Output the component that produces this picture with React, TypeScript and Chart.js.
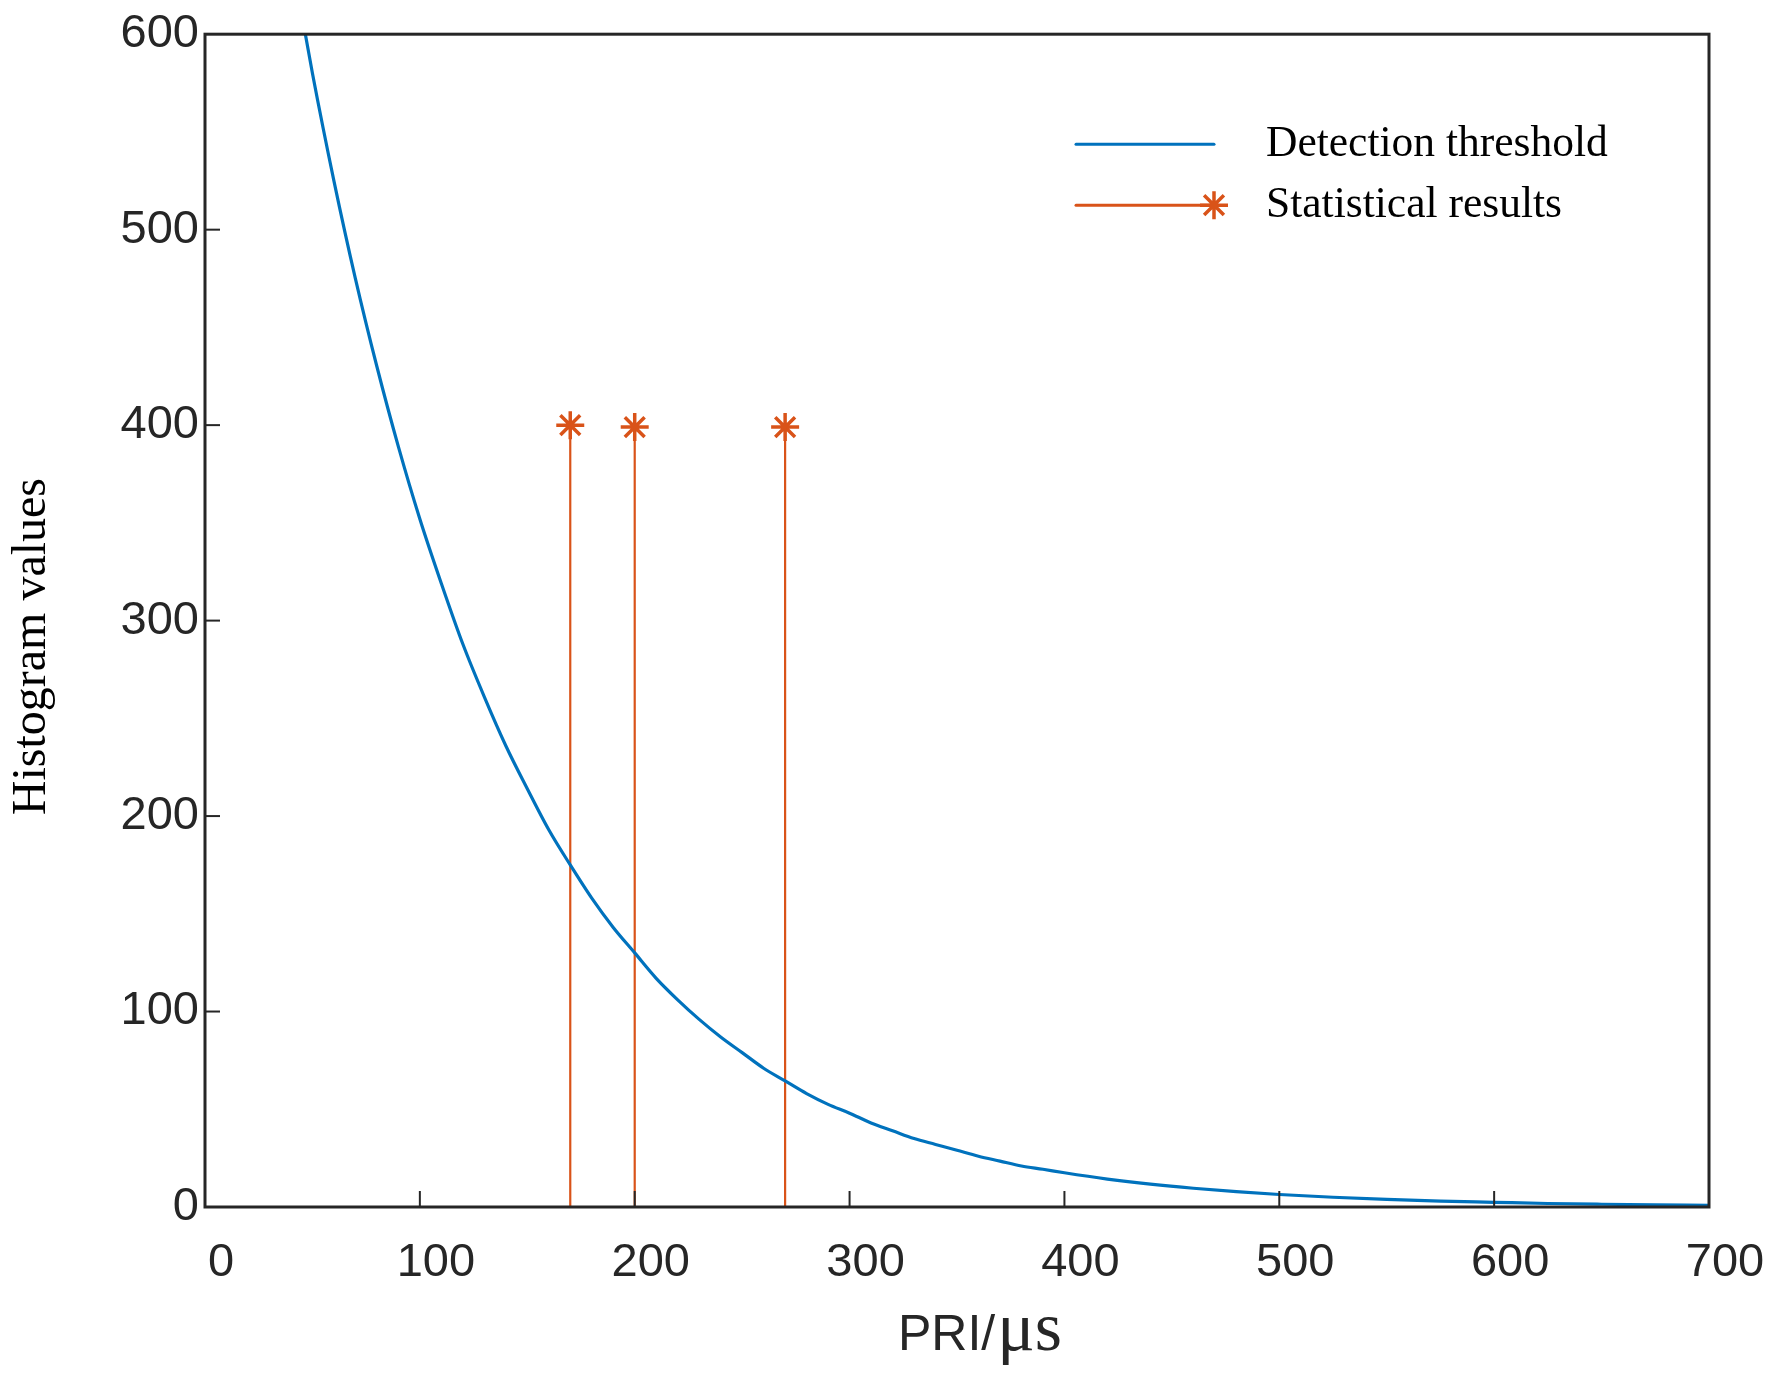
import React, { useEffect, useRef } from "react";
import { Chart, registerables } from "chart.js";

Chart.register(...registerables);

// ---- data ----
const thresholdX = [40, 50, 60, 70, 80, 90, 100, 110, 120, 130, 140, 150, 160, 170, 180, 190, 200, 210, 220, 230, 240, 250, 260, 270, 280, 290, 300, 310, 320, 330, 340, 350, 360, 370, 380, 390, 400, 420, 440, 460, 480, 500, 525, 550, 575, 600, 625, 650, 675, 700];
const thresholdY = [641, 580, 525, 475, 430, 389, 352, 319, 288, 261, 236, 214, 193, 175, 158, 143, 130, 117, 106, 96, 87, 79, 71, 64.5, 58, 52.5, 48, 43, 39, 35, 32, 29, 26, 23.5, 21, 19.3, 17.5, 14.3, 11.7, 9.6, 7.9, 6.4, 5.0, 3.9, 3.0, 2.4, 1.8, 1.4, 1.1, 0.9];
const stemX = [170, 200, 270];
const stemY = [400, 399, 399];
const xTickValues = [0, 100, 200, 300, 400, 500, 600, 700];
const yTickValues = [0, 100, 200, 300, 400, 500, 600];
const legendLabels = ["Detection threshold", "Statistical results"];
const xTitleParts = ["PRI/", "μs"];
const yTitle = "Histogram values";

const BLUE = "#0072BD";
const ORANGE = "#D95319";
const AXIS = "#262626";

const W = 1779;
const H = 1390;

export default function App() {
  const ref = useRef<HTMLCanvasElement | null>(null);

  useEffect(() => {
    const canvas = ref.current;
    if (!canvas) return;

    const stemData: any[] = [];
    stemX.forEach((x, i) => {
      stemData.push({ x, y: 0 });
      stemData.push({ x, y: stemY[i] });
      stemData.push({ x, y: null });
    });

    const framePlugin = {
      id: "frame",
      afterDatasetsDraw(chart: any) {
        const { ctx, chartArea, scales } = chart;
        const { left, right, top, bottom } = chartArea;
        ctx.save();
        ctx.strokeStyle = AXIS;
        ctx.lineWidth = 3;
        ctx.strokeRect(left, top, right - left, bottom - top);
        ctx.lineWidth = 2;
        xTickValues.forEach((v) => {
          const px = scales.x.getPixelForValue(v);
          if (v === xTickValues[0] || v === xTickValues[xTickValues.length - 1]) return;
          ctx.beginPath();
          ctx.moveTo(px, bottom);
          ctx.lineTo(px, bottom - 16);
          ctx.stroke();
        });
        yTickValues.forEach((v) => {
          const py = scales.y.getPixelForValue(v);
          if (v === yTickValues[0] || v === yTickValues[yTickValues.length - 1]) return;
          ctx.beginPath();
          ctx.moveTo(left, py);
          ctx.lineTo(left + 15, py);
          ctx.stroke();
        });
        ctx.restore();
      },
      afterDraw(chart: any) {
        const { ctx, chartArea } = chart;
        const { left, right, top, bottom } = chartArea;
        ctx.save();
        // legend
        const lx0 = left + 871;
        const lx1 = left + 1009;
        const tx = left + 1061;
        const ly = [top + 110, top + 171];
        ctx.lineCap = "round";
        ctx.lineWidth = 3;
        ctx.strokeStyle = BLUE;
        ctx.beginPath();
        ctx.moveTo(lx0, ly[0]);
        ctx.lineTo(lx1, ly[0]);
        ctx.stroke();
        ctx.strokeStyle = ORANGE;
        ctx.beginPath();
        ctx.moveTo(lx0, ly[1]);
        ctx.lineTo(lx1, ly[1]);
        ctx.stroke();
        // star marker
        const r = 14;
        ctx.lineWidth = 3.5;
        ctx.lineCap = "butt";
        ctx.beginPath();
        for (let k = 0; k < 4; k++) {
          const a = (k * Math.PI) / 4;
          ctx.moveTo(lx1 - r * Math.sin(a), ly[1] - r * Math.cos(a));
          ctx.lineTo(lx1 + r * Math.sin(a), ly[1] + r * Math.cos(a));
        }
        ctx.stroke();
        ctx.fillStyle = "#000";
        ctx.font = "43.5px 'Liberation Serif'";
        ctx.textBaseline = "middle";
        ctx.textAlign = "left";
        ctx.fillText(legendLabels[0], tx, ly[0]);
        ctx.fillText(legendLabels[1], tx, ly[1]);

        // y title
        ctx.save();
        ctx.translate(32, (top + bottom) / 2 + 26);
        ctx.rotate(-Math.PI / 2);
        ctx.font = "48px 'Liberation Serif'";
        ctx.textAlign = "center";
        ctx.textBaseline = "middle";
        ctx.fillStyle = "#000";
        ctx.fillText(yTitle, 0, 0);
        ctx.restore();

        // x title
        ctx.fillStyle = AXIS;
        ctx.textBaseline = "alphabetic";
        ctx.textAlign = "left";
        const f1 = "50px 'Liberation Sans'";
        const f2 = "70px 'Liberation Serif'";
        ctx.font = f1;
        const w1 = ctx.measureText(xTitleParts[0]).width;
        ctx.font = f2;
        const w2 = ctx.measureText(xTitleParts[1]).width;
        const cx = (left + right) / 2 + 22;
        const base = bottom + 143;
        const sx = cx - (w1 + w2) / 2;
        ctx.font = f1;
        ctx.fillText(xTitleParts[0], sx, base);
        ctx.font = f2;
        ctx.fillText(xTitleParts[1], sx + w1 + 2, base);
        ctx.restore();
      },
    };

    const chart = new Chart(canvas, {
      type: "line",
      data: {
        datasets: [
          {
            label: legendLabels[0],
            data: thresholdX.map((x, i) => ({ x, y: thresholdY[i] })),
            borderColor: BLUE,
            borderWidth: 3.2,
            pointRadius: 0,
            cubicInterpolationMode: "monotone",
            fill: false,
          },
          {
            label: legendLabels[1] + " stems",
            data: stemData,
            borderColor: ORANGE,
            borderWidth: 2.2,
            pointRadius: 0,
            spanGaps: false,
            fill: false,
          },
          {
            label: legendLabels[1],
            data: stemX.map((x, i) => ({ x, y: stemY[i] })),
            borderColor: ORANGE,
            backgroundColor: ORANGE,
            showLine: false,
            pointStyle: "star",
            pointRadius: 14,
            pointBorderWidth: 3.5,
          },
        ] as any,
      },
      options: {
        responsive: false,
        animation: false,
        layout: { padding: { top: 34, right: 70, left: 0, bottom: 0 } },
        plugins: {
          legend: { display: false },
          tooltip: { enabled: false },
        },
        scales: {
          x: {
            type: "linear",
            min: 0,
            max: 700,
            offset: false,
            grid: { display: false, drawTicks: false },
            border: { display: false },
            afterBuildTicks: (scale: any) => {
              scale.ticks = xTickValues.map((v) => ({ value: v }));
            },
            afterFit: (scale: any) => {
              scale.height = 183;
            },
            ticks: {
              color: AXIS,
              font: { family: "'Liberation Sans'", size: 47 },
              padding: 28,
              labelOffset: 16,
              maxRotation: 0,
              autoSkip: false,
            },
          },
          y: {
            type: "linear",
            min: 0,
            max: 600,
            grid: { display: false, drawTicks: false },
            border: { display: false },
            afterBuildTicks: (scale: any) => {
              scale.ticks = yTickValues.map((v) => ({ value: v }));
            },
            afterFit: (scale: any) => {
              scale.width = 205;
            },
            ticks: {
              color: AXIS,
              font: { family: "'Liberation Sans'", size: 47 },
              padding: 6,
              autoSkip: false,
            },
          },
        },
      } as any,
      plugins: [framePlugin],
    });

    return () => chart.destroy();
  }, []);

  return (
    <div style={{ position: "fixed", left: 0, top: 0, width: W, height: H, background: "#fff" }}>
      <canvas ref={ref} width={W} height={H} style={{ width: W, height: H, display: "block" }} />
    </div>
  );
}
